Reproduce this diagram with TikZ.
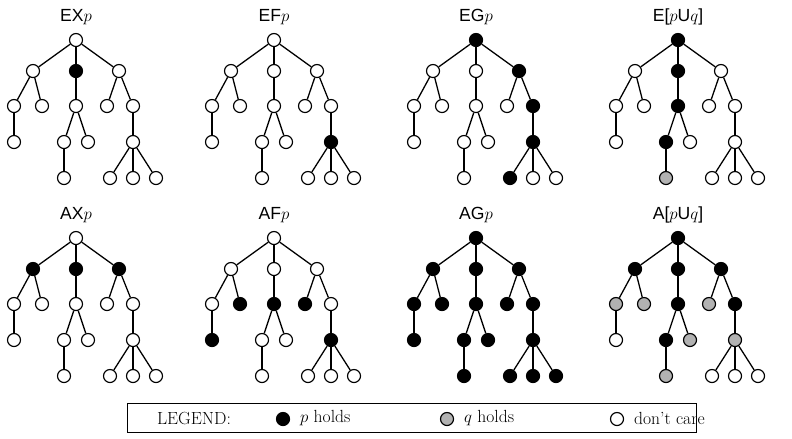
\documentclass[tikz,border=0pt]{standalone}
\usepackage{fontspec}
\newfontfamily\ttlfont{Liberation Sans}
\begin{document}
\begin{tikzpicture}[x=0.03cm,y=-0.03cm,
 n/.style={circle,draw,line width=1pt,minimum size=13*0.03cm,inner sep=0pt},
 W/.style={n,fill=white}, B/.style={n,fill=black}, G/.style={n,fill=black!30},
 e/.style={line width=1.1pt},
 tt/.style={font=\ttlfont\fontsize{15}{17}\selectfont},
 lg/.style={font=\fontsize{15}{17}\selectfont}]
\useasboundingbox (0,0) rectangle (792,438);
\newcommand\ctltree[4]{%
\begin{scope}[shift={(#1,#2)}]
\node[tt] (t#4) at (76,17) {#3};
\foreach \nm/\px/\py [count=\i from 0] in {r/76/40,L/33/71,M/76/71,R/119/71,LL/14/106,LR/42/106,LLL/14/142,Ma/76/106,Mb/64/142,Mc/88/142,Md/64/178,RL/107/106,RR/133/106,RRa/133/142,RRb/110/178,RRc/133/178,RRd/156/178}{
 \pgfmathsetmacro\st{{\styles}[\i]}
 \node[\st] (#4\nm) at (\px,\py) {};}
\foreach \p/\c in {r/L,r/M,r/R,L/LL,L/LR,LL/LLL,M/Ma,Ma/Mb,Ma/Mc,Mb/Md,R/RL,R/RR,RR/RRa,RRa/RRb,RRa/RRc,RRa/RRd}
 \draw[e] (#4\p)--(#4\c);
\end{scope}}
\def\styles{"W","W","B","W","W","W","W","W","W","W","W","W","W","W","W","W","W"}
\ctltree{0}{0}{EX$p$}{a}
\def\styles{"W","W","W","W","W","W","W","W","W","W","W","W","W","B","W","W","W"}
\ctltree{198}{0}{EF$p$}{b}
\def\styles{"B","W","W","B","W","W","W","W","W","W","W","W","B","B","B","W","W"}
\ctltree{400}{0}{EG$p$}{c}
\def\styles{"B","W","B","W","W","W","W","B","B","W","G","W","W","W","W","W","W"}
\ctltree{602}{0}{E[$p$U$q$]}{d}
\def\styles{"W","B","B","B","W","W","W","W","W","W","W","W","W","W","W","W","W"}
\ctltree{0}{198}{AX$p$}{e}
\def\styles{"W","W","W","W","W","B","B","B","W","W","W","B","W","B","W","W","W"}
\ctltree{198}{198}{AF$p$}{f}
\def\styles{"B","B","B","B","B","B","B","B","B","B","B","B","B","B","B","B","B"}
\ctltree{400}{198}{AG$p$}{g}
\def\styles{"B","B","B","B","G","G","W","B","B","G","G","G","B","G","W","W","W"}
\ctltree{602}{198}{A[$p$U$q$]}{h}
\node[draw,line width=1pt,minimum width=569*0.03cm,minimum height=29*0.03cm] (leg) at (412,418) {};
\node[lg] (l1) at (194,418) {LEGEND:};
\node[B] (l2) at (283,419) {};
\node[lg,anchor=west] (l3) at (296,418) {$p$ holds};
\node[G] (l4) at (447,419) {};
\node[lg,anchor=west] (l5) at (460,418) {$q$ holds};
\node[W] (l6) at (617,419) {};
\node[lg,anchor=west] (l7) at (630,418) {don't care};
\end{tikzpicture}
\end{document}
